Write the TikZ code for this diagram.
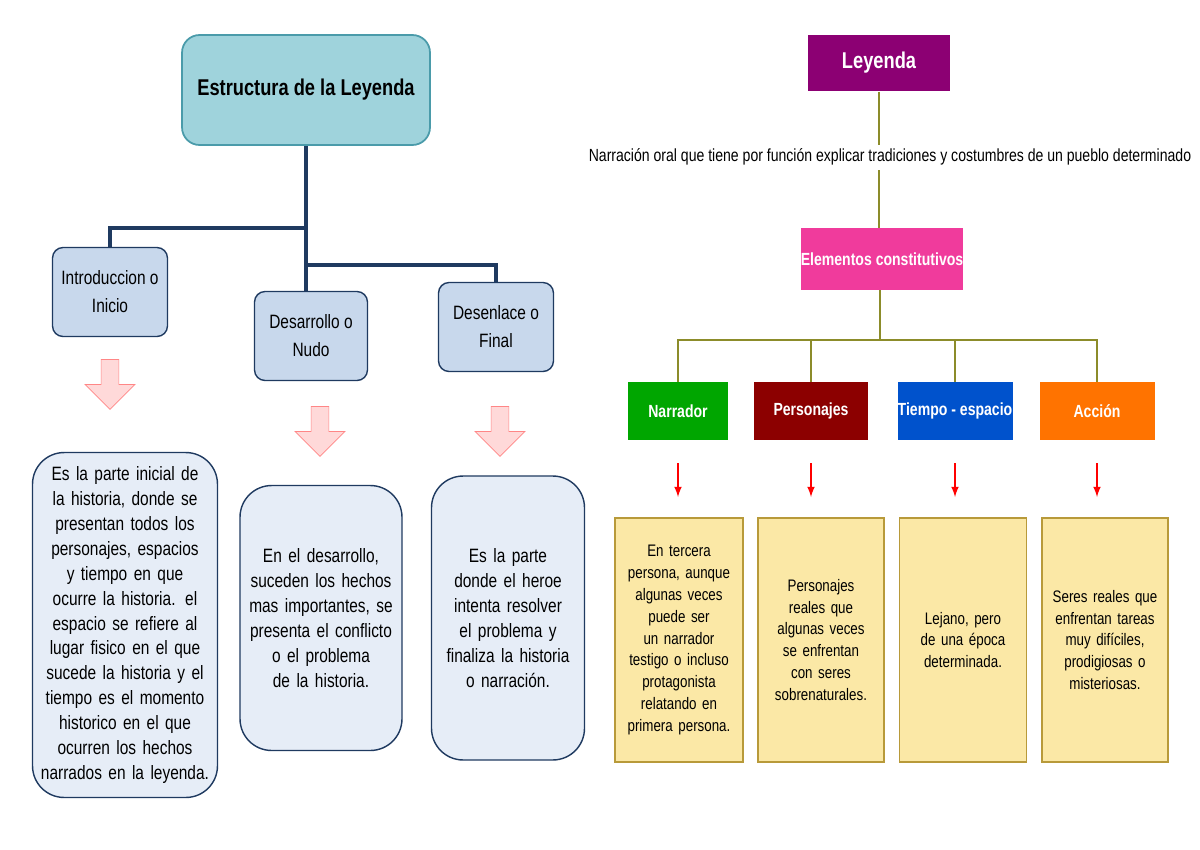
\documentclass[tikz,border=0pt]{standalone}
\usepackage{fontspec}
\setmainfont{Liberation Sans}[FakeStretch=0.8]
\usetikzlibrary{shapes.arrows}
\definecolor{tealbox}{HTML}{9FD3DC}
\definecolor{tealline}{HTML}{4A9BAA}
\definecolor{bluebox}{HTML}{C8D8EC}
\definecolor{navy}{HTML}{1F3A60}
\definecolor{palebox}{HTML}{E6EDF7}
\definecolor{olive}{HTML}{8C8C2A}
\definecolor{yelbox}{HTML}{FBE8A6}
\definecolor{yelline}{HTML}{B89A3A}
\begin{document}
\begin{tikzpicture}[x=0.02cm,y=-0.02cm,
    head/.style={draw=navy, fill=bluebox, rounded corners=6pt, line width=0.8pt, align=center, font=\fontsize{11}{16}\selectfont, inner sep=0},
    body/.style={draw=navy, fill=palebox, rounded corners=18pt, line width=0.8pt, align=center, font=\fontsize{11}{14.2}\selectfont, inner sep=0},
    elem/.style={text=white, align=center, font=\bfseries\fontsize{10}{12}\selectfont, inner sep=0},
    note/.style={draw=yelline, fill=yelbox, line width=0.8pt, align=center, font=\fontsize{9.5}{12.5}\selectfont, inner sep=0},
    pinkarrow/.style={single arrow, shape border rotate=270, draw=pink!70!red, fill=pink!60, minimum width=1cm, minimum height=1cm, single arrow head extend=4pt, inner sep=2pt},
    redarrow/.style={red, line width=1pt, -latex}]
\useasboundingbox[fill=white] (0,0) rectangle (1200,849);

% Left: structure
\node[draw=tealline, fill=tealbox, rounded corners=10pt, line width=1pt, minimum width=4.96cm, minimum height=2.2cm, font=\bfseries\fontsize{13}{15}\selectfont] (title) at (306,90) {Estructura de la Leyenda};
\node[head, minimum width=2.3cm, minimum height=1.78cm] (intro) at (110,292) {Introduccion o\\Inicio};
\node[head, minimum width=2.26cm, minimum height=1.78cm] (desa) at (311,336) {Desarrollo o\\Nudo};
\node[head, minimum width=2.3cm, minimum height=1.78cm] (final) at (496,327) {Desenlace o\\Final};
\draw[navy, line width=1.8pt] (title.south) -- (306,265) -- (496,265) -- (final.north);
\draw[navy, line width=1.8pt] (306,228) -- (110,228) -- (intro.north);
\draw[navy, line width=1.8pt] (306,265) -- (306,292);

\node[pinkarrow] (a1) at (110,380) {};
\node[pinkarrow] (a2) at (320,427) {};
\node[pinkarrow] (a3) at (500,427) {};

\node[body, minimum width=3.7cm, minimum height=6.9cm, text width=3.45cm] (t1) at (125,625) {Es la parte inicial de la historia, donde se presentan todos los personajes, espacios y tiempo en que ocurre la historia. el espacio se refiere al lugar fisico en el que sucede la historia y el tiempo es el momento historico en el que ocurren los hechos narrados en la leyenda.};
\node[body, minimum width=3.24cm, minimum height=5.3cm, text width=2.95cm] (t2) at (321,618) {En el desarrollo, suceden los hechos mas importantes, se presenta el conflicto o el problema de la historia.};
\node[body, minimum width=3.06cm, minimum height=5.68cm, text width=2.85cm] (t3) at (508,618) {Es la parte donde el heroe intenta resolver el problema y finaliza la historia o narración.};

% Right: legend
\node[elem, fill=violet!80!purple, minimum width=2.84cm, minimum height=1.14cm, font=\bfseries\fontsize{13}{15}\selectfont] (ley) at (879,63) {Leyenda};
\node[font=\fontsize{10}{12}\selectfont, inner sep=1pt] (def) at (890,157) {Narración oral que tiene por función explicar tradiciones y costumbres de un pueblo determinado};
\node[elem, fill=magenta!70!pink, minimum width=3.18cm, minimum height=1.24cm] (elem) at (882,259) {Elementos constitutivos};
\draw[olive, line width=1.5pt] (ley.south) -- (879,145);
\draw[olive, line width=1.5pt] (879,170) -- (879,228);

\node[elem, fill=green!65!black, minimum width=2cm, minimum height=1.16cm] (nar) at (678,411) {Narrador};
\node[elem, fill=red!55!black, minimum width=2.28cm, minimum height=1.16cm] (per) at (811,411) {Personajes};
\node[elem, fill=blue!60!cyan!80!black, minimum width=2.3cm, minimum height=1.16cm] (tie) at (955,411) {Tiempo - espacio};
\node[elem, fill=orange!90!red, minimum width=2.3cm, minimum height=1.16cm] (acc) at (1097,411) {Acción};
\draw[olive, line width=1.5pt] (880,290) -- (880,340);
\draw[olive, line width=1.5pt] (nar.north) -- (678,340) -- (1097,340) -- (acc.north);
\draw[olive, line width=1.5pt] (per.north) -- (811,340);
\draw[olive, line width=1.5pt] (tie.north) -- (955,340);

\node[note, minimum width=2.56cm, minimum height=4.88cm, text width=2.2cm] (n1) at (679,640) {En tercera persona, aunque algunas veces puede ser un narrador testigo o incluso protagonista relatando en primera persona.};
\node[note, minimum width=2.52cm, minimum height=4.88cm, text width=2.2cm] (n2) at (821,640) {Personajes reales que algunas veces se enfrentan con seres sobrenaturales.};
\node[note, minimum width=2.54cm, minimum height=4.88cm, text width=2.2cm] (n3) at (963,640) {Lejano, pero de una época determinada.};
\node[note, minimum width=2.52cm, minimum height=4.88cm, text width=2.2cm] (n4) at (1105,640) {Seres reales que enfrentan tareas muy difíciles, prodigiosas o misteriosas.};
\foreach \x/\n in {678/1, 811/2, 955/3, 1097/4} {
    \coordinate (s\n) at (\x,463);
    \draw[redarrow] (s\n) -- (\x,497);
}
\end{tikzpicture}
\end{document}
